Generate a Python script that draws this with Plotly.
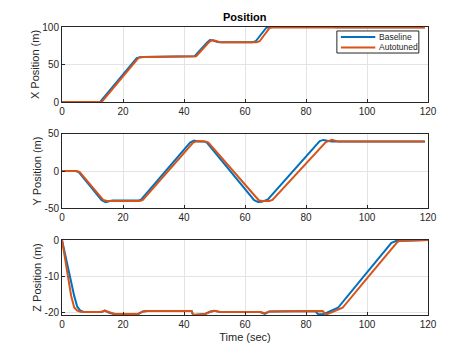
import plotly.graph_objects as go

# ---- data ----
t_x_base = [0, 12.5, 24.5, 25.5, 26.5, 42.5, 43.5, 47.5, 48.5, 49.5, 51, 52, 62.5, 63.5, 67, 68, 84, 86, 88, 90, 119]
x_base = [0, 0, 58.5, 59.8, 60, 60, 61, 79, 82.5, 82, 80, 79.8, 79.8, 81, 99, 100, 100, 100.8, 100.2, 99.6, 99.6]
t_x_auto = [0, 13, 25, 26, 27, 43, 44, 48, 49, 50, 51.5, 52.5, 63.8, 64.8, 68, 69, 119]
x_auto = [0, 0, 58.5, 59.8, 60, 60, 61, 79, 82.5, 82, 80, 79.8, 79.8, 81, 98.5, 99.2, 99.2]

t_y_base = [0, 4.5, 5.5, 13, 14.3, 15.5, 16.5, 25, 26, 42, 43.3, 44.5, 46.5, 47.5, 63, 64.3, 65.5, 66.5, 67.5, 84.5, 85.7, 87, 88.5, 119]
y_base = [0, 0, -1.5, -39.5, -42, -41, -40, -40, -38.5, 38.5, 41, 40, 40, 38.5, -39.5, -42, -41.5, -40, -38.5, 40.5, 42, 41, 40, 40]
t_y_auto = [0, 4.8, 5.8, 13.5, 14.8, 25.5, 26.5, 43, 44.3, 47, 48, 64.5, 65.5, 68, 69, 86.5, 87.5, 88.5, 89.5, 90.5, 119]
y_auto = [0, 0, -1.5, -39, -40.5, -40.5, -39, 38.5, 40.5, 40, 38.5, -39.5, -40.5, -40.5, -39, 39, 40.5, 42, 41, 40, 40]

t_z_base = [0, 1, 2.5, 4, 5, 6, 7, 9, 13, 14, 15.5, 17, 25, 26.5, 28, 42.5, 43, 47, 48.5, 50, 52, 65, 66.5, 68, 83, 84, 85.5, 87, 88.5, 90.5, 99, 108, 109.5, 120]
z_base = [0, -4, -10, -15.5, -18.5, -19.6, -19.9, -20, -20, -19.6, -20.2, -20.5, -20.5, -19.8, -19.7, -19.7, -20.8, -20.5, -19.9, -19.6, -20, -20, -20.5, -19.8, -19.7, -20.6, -20.6, -20.1, -19.6, -18.8, -10, -0.8, -0.3, 0]
t_z_auto = [0, 0.8, 1.8, 3, 4, 5, 6, 7, 12.5, 14, 16.5, 17.5, 25, 26.5, 28, 42.5, 43, 47, 48.5, 50, 52, 65, 66.5, 68, 85.5, 86.5, 88, 90, 92, 100.6, 110, 111, 120]
z_auto = [0, -4, -10, -15.5, -18.7, -19.6, -19.9, -20, -20, -19.6, -20.3, -20.5, -20.5, -19.8, -19.7, -19.7, -20.8, -20.5, -19.9, -19.6, -20, -20, -20.3, -19.8, -19.7, -20.7, -20.2, -19.6, -18.8, -10, -0.5, -0.2, 0]

x_ticks = [0, 20, 40, 60, 80, 100, 120]
x_tick_labels = ["0", "20", "40", "60", "80", "100", "120"]
yx_ticks = [0, 50, 100]
yx_tick_labels = ["0", "50", "100"]
yy_ticks = [-50, 0, 50]
yy_tick_labels = ["-50", "0", "50"]
yz_ticks = [-20, -10, 0]
yz_tick_labels = ["-20", "-10", "0"]
series_names = ["Baseline", "Autotuned"]
colors = ["#0072BD", "#D95319"]

FONT = "Liberation Sans, Arial, sans-serif"
AXC = "#262626"

fig = go.Figure()
panels = [
    (t_x_base, x_base, t_x_auto, x_auto, "", ""),
    (t_y_base, y_base, t_y_auto, y_auto, "2", "2"),
    (t_z_base, z_base, t_z_auto, z_auto, "3", "3"),
]
for i, (tb, vb, ta, va, xs, ys) in enumerate(panels):
    for name, col, tt, vv in [(series_names[0], colors[0], tb, vb), (series_names[1], colors[1], ta, va)]:
        fig.add_trace(go.Scatter(
            x=tt, y=vv, mode="lines", name=name,
            line=dict(color=col, width=2),
            xaxis="x" + xs, yaxis="y" + ys,
            showlegend=False,
        ))

def xaxis(anchor, title=None):
    d = dict(
        range=[0, 120], tickvals=x_ticks, ticktext=x_tick_labels,
        showgrid=True, gridcolor="#e3e3e3", gridwidth=1,
        zeroline=False, showline=True, linecolor=AXC, linewidth=1, mirror=True,
        ticks="inside", ticklen=3, tickcolor=AXC, automargin=False,
        tickfont=dict(family=FONT, size=10, color=AXC), anchor=anchor,
    )
    if title:
        d["title"] = dict(text=title, font=dict(family=FONT, size=11, color=AXC), standoff=4)
    return d

def yaxis(rng, tickvals, ticktext, domain, anchor, title):
    return dict(
        range=rng, tickvals=tickvals, ticktext=ticktext, domain=domain, anchor=anchor,
        showgrid=True, gridcolor="#e3e3e3", gridwidth=1,
        zeroline=False, showline=True, linecolor=AXC, linewidth=1, mirror=True,
        ticks="inside", ticklen=3, tickcolor=AXC, automargin=False,
        tickfont=dict(family=FONT, size=10, color=AXC),
        title=dict(text=title, font=dict(family=FONT, size=11, color=AXC), standoff=0),
    )

# custom compact legend (MATLAB-style) in the top panel
shapes = [
    dict(type="rect", xref="x domain", yref="y domain", x0=0.751, x1=0.975, y0=0.653, y1=0.947,
         line=dict(color=AXC, width=1), fillcolor="white", layer="above"),
]
annotations = [dict(
    text="<b>Position</b>", x=0.5, y=1.0, xref="paper", yref="paper",
    xanchor="center", yanchor="bottom", yshift=2, showarrow=False,
    font=dict(family=FONT, size=11, color="#000000"),
)]
for k, (name, col) in enumerate(zip(series_names, colors)):
    yy = 0.867 - k * 0.14
    shapes.append(dict(type="line", xref="x domain", yref="y domain", x0=0.762, x1=0.856, y0=yy, y1=yy,
                       line=dict(color=col, width=2), layer="above"))
    annotations.append(dict(text=name, xref="x domain", yref="y domain", x=0.86, y=yy,
                            xanchor="left", yanchor="middle", showarrow=False,
                            font=dict(family=FONT, size=8.5, color=AXC)))

fig.update_layout(
    width=458, height=339,
    margin=dict(l=54, r=38, t=19, b=32),
    paper_bgcolor="white", plot_bgcolor="white",
    font=dict(family=FONT, color=AXC),
    showlegend=False,
    xaxis=xaxis("y"),
    xaxis2=xaxis("y2"),
    xaxis3=xaxis("y3", "Time (sec)"),
    yaxis=yaxis([0, 100], yx_ticks, yx_tick_labels, [0.7396, 1.0], "x", "X Position (m)"),
    yaxis2=yaxis([-50, 50], yy_ticks, yy_tick_labels, [0.3715, 0.6285], "x2", "Y Position (m)"),
    yaxis3=yaxis([-20.8, 0], yz_ticks, yz_tick_labels, [0.0, 0.2604], "x3", "Z Position (m)"),
    shapes=shapes,
    annotations=annotations,
)

fig.write_html("out.html")
